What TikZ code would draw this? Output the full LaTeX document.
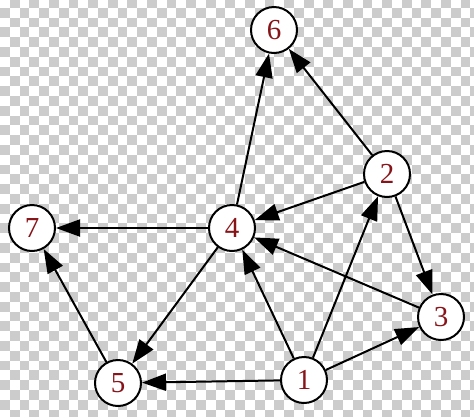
\documentclass[tikz,border=0pt]{standalone}
\usepackage{fontspec}
\setmainfont{Liberation Serif}
\usetikzlibrary{arrows.meta,positioning}
\definecolor{numred}{RGB}{135,20,25}

\begin{document}
\begin{tikzpicture}[x=1pt, y=1pt, on grid,
    vertex/.style={circle, draw, line width=2pt, fill=white, minimum size=46pt,
      inner sep=0pt, text=numred, font=\fontsize{29}{30}\selectfont},
    arc/.style={line width=2pt, -{Triangle[length=24pt,width=17pt]}}]
    \useasboundingbox (0,0) rectangle (474,-416);
    \begin{scope}
      \clip (0,0) rectangle (474,-416);
      \fill[white] (0,0) rectangle (474,-416);
      \foreach \j in {0,...,43} {
        \pgfmathtruncatemacro\s{mod(\j+1,2)}
        \pgfmathtruncatemacro\t{\s+2}
        \foreach \i in {\s,\t,...,49}
          \fill[black!20] (9.8*\i,2-9.8*\j) rectangle +(9.8,-9.8);
      }
    \end{scope}

    \node[vertex] (n1) at (304,-380) {1};
    \node[vertex, below left=3pt and 186pt of n1] (n5) {5};
    \node[vertex, above right=63pt and 137pt of n1] (n3) {3};
    \node[vertex, above left=152pt and 72pt of n1] (n4) {4};
    \node[vertex, above right=54pt and 155pt of n4] (n2) {2};
    \node[vertex, left=200pt of n4] (n7) {7};
    \node[vertex, above right=198pt and 42pt of n4] (n6) {6};

    \draw[arc] (n4) -- (n6);
    \draw[arc] (n2) -- (n6);
    \draw[arc] (n2) -- (n4);
    \draw[arc] (n2) -- (n3);
    \draw[arc] (n3) -- (n4);
    \draw[arc] (n4) -- (n7);
    \draw[arc] (n4) -- (n5);
    \draw[arc] (n5) -- (n7);
    \draw[arc] (n1) -- (n5);
    \draw[arc] (n1) -- (n4);
    \draw[arc] (n1) -- (n2);
    \draw[arc] (n1) -- (n3);
\end{tikzpicture}
\end{document}
